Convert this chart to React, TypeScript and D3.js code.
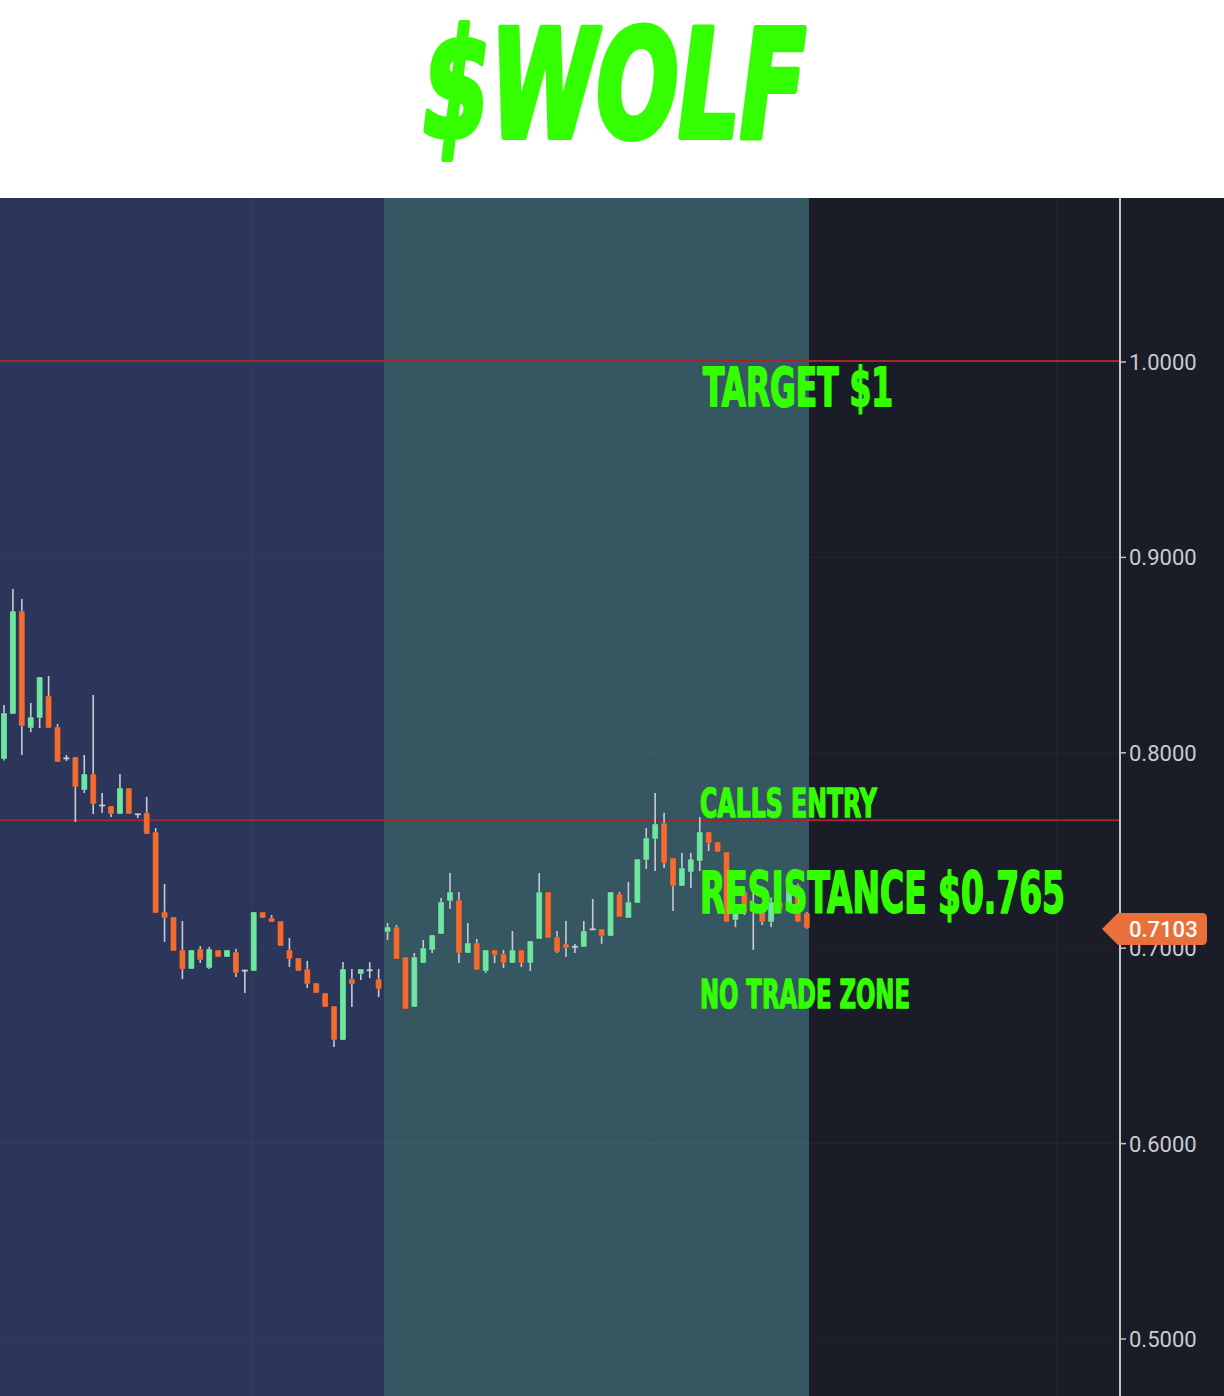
import React from "react";
import * as d3 from "d3";

// ---- data ----
const opens = [
  0.7968, 0.8199, 0.8726, 0.8127, 0.8178, 0.8291, 0.8132, 0.7973, 0.7979, 0.7810,
  0.7892, 0.7733, 0.7728, 0.7687, 0.7820, 0.7687, 0.7693, 0.7595, 0.7185, 0.7160,
  0.6991, 0.6894, 0.6996, 0.6899, 0.6991, 0.6955, 0.6981, 0.6888, 0.6883, 0.7185,
  0.7155, 0.7139, 0.6991, 0.6950, 0.6894, 0.6822, 0.6771, 0.6704, 0.6530, 0.6842,
  0.6868, 0.6888, 0.6842, 0.7083, 0.7108, 0.6955, 0.6699, 0.6924, 0.6991, 0.7073,
  0.7242, 0.7247, 0.6975, 0.7027, 0.6883, 0.6991, 0.6970, 0.6924, 0.6991, 0.6924,
  0.7047, 0.7288, 0.7057, 0.7022, 0.7008, 0.7006, 0.7098, 0.7098, 0.7062, 0.7277,
  0.7155, 0.7231, 0.7451, 0.7559, 0.7641, 0.7462, 0.7318, 0.7390, 0.7446, 0.7595,
  0.7544, 0.7492, 0.7144, 0.7288, 0.7200, 0.7185, 0.7134, 0.7236, 0.7210, 0.7324,
  0.7180,
];
const highs = [
  0.8245, 0.8838, 0.8787, 0.8255, 0.8388, 0.8393, 0.8147, 0.7989, 0.7979, 0.7989,
  0.8296, 0.7794, 0.7728, 0.7892, 0.7820, 0.7687, 0.7774, 0.7615, 0.7329, 0.7160,
  0.7139, 0.6991, 0.7011, 0.7006, 0.6991, 0.6991, 0.6996, 0.6888, 0.7185, 0.7185,
  0.7170, 0.7139, 0.7052, 0.6950, 0.6935, 0.6822, 0.6771, 0.6704, 0.6929, 0.6894,
  0.6894, 0.6929, 0.6894, 0.7129, 0.7119, 0.6955, 0.6975, 0.7042, 0.7068, 0.7257,
  0.7385, 0.7288, 0.7129, 0.7047, 0.6991, 0.6991, 0.6991, 0.7088, 0.6991, 0.7037,
  0.7385, 0.7288, 0.7088, 0.7139, 0.7022, 0.7139, 0.7252, 0.7098, 0.7288, 0.7288,
  0.7339, 0.7456, 0.7615, 0.7794, 0.7693, 0.7462, 0.7487, 0.7487, 0.7671, 0.7595,
  0.7544, 0.7492, 0.7200, 0.7300, 0.7339, 0.7200, 0.7260, 0.7280, 0.7330, 0.7330,
  0.7185,
];
const lows = [
  0.7960, 0.8199, 0.7989, 0.8106, 0.8127, 0.8127, 0.7953, 0.7958, 0.7646, 0.7794,
  0.7687, 0.7693, 0.7671, 0.7687, 0.7687, 0.7666, 0.7584, 0.7180, 0.7032, 0.6986,
  0.6842, 0.6894, 0.6924, 0.6894, 0.6955, 0.6955, 0.6853, 0.6771, 0.6883, 0.7155,
  0.7134, 0.7011, 0.6904, 0.6883, 0.6796, 0.6771, 0.6699, 0.6494, 0.6530, 0.6699,
  0.6837, 0.6847, 0.6750, 0.7042, 0.6945, 0.6689, 0.6699, 0.6924, 0.6975, 0.7073,
  0.7201, 0.6924, 0.6975, 0.6888, 0.6873, 0.6924, 0.6899, 0.6924, 0.6904, 0.6883,
  0.7047, 0.7052, 0.6975, 0.6955, 0.6975, 0.7006, 0.7093, 0.7022, 0.7062, 0.7160,
  0.7155, 0.7231, 0.7405, 0.7395, 0.7410, 0.7190, 0.7318, 0.7308, 0.7395, 0.7497,
  0.7492, 0.7134, 0.7108, 0.7170, 0.6991, 0.7119, 0.7108, 0.7180, 0.7200, 0.7134,
  0.7100,
];
const closes = [
  0.8204, 0.8726, 0.8137, 0.8183, 0.8388, 0.8127, 0.7953, 0.7970, 0.7825, 0.7892,
  0.7738, 0.7728, 0.7687, 0.7820, 0.7687, 0.7684, 0.7584, 0.7180, 0.7155, 0.6986,
  0.6894, 0.6991, 0.6940, 0.6996, 0.6955, 0.6991, 0.6873, 0.6883, 0.7185, 0.7155,
  0.7134, 0.7011, 0.6945, 0.6883, 0.6817, 0.6771, 0.6699, 0.6530, 0.6894, 0.6817,
  0.6894, 0.6886, 0.6791, 0.7108, 0.6945, 0.6689, 0.6955, 0.7001, 0.7068, 0.7236,
  0.7288, 0.6975, 0.7027, 0.6888, 0.6991, 0.6965, 0.6924, 0.6991, 0.6924, 0.7037,
  0.7288, 0.7052, 0.6981, 0.7001, 0.7006, 0.7088, 0.7095, 0.7062, 0.7288, 0.7160,
  0.7236, 0.7456, 0.7564, 0.7636, 0.7436, 0.7318, 0.7410, 0.7456, 0.7595, 0.7538,
  0.7492, 0.7134, 0.7190, 0.7180, 0.7185, 0.7134, 0.7236, 0.7200, 0.7320, 0.7134,
  0.7103,
];

const priceTicks = [0.5, 0.6, 0.7, 0.8, 0.9, 1.0];
const levelLines = [1.0, 0.765];
const lastPrice = 0.7103;
// background zones in candle-index units
const zoneBounds = [-2, 42.55, 90.2, 140];
const zoneColors = ["#2b365a", "#365762", "#1a1c27"];
const gridIdx = [27.8, 72.9, 118];

const GREEN = "#6ee6a0";
const ORANGE = "#f26b30";
const WICK = "#c9cbd1";
const TEXT_GREEN = "#33ff00";

export default function App() {
  const W = 1224;
  const H = 1396;
  const top = 198;
  const axisX = 1120;

  const x = d3.scaleLinear().domain([0, 125]).range([4, 1119]);
  const y = d3.scaleLinear().domain([0.5, 1.0]).range([1339, 362]);

  const bodyW = 6;
  const annoFont =
    "'Liberation Sans Narrow', 'DejaVu Sans Condensed', 'Liberation Sans', sans-serif";

  return (
    <div style={{ position: "absolute", left: 0, top: 0, width: W, height: H }}>
      <svg width={W} height={H} style={{ display: "block" }}>
        <rect x={0} y={0} width={W} height={H} fill="#ffffff" />
        {/* title */}
        <text
          x={423}
          y={137}
          fill={TEXT_GREEN}
          stroke={TEXT_GREEN}
          strokeWidth={6}
          strokeLinejoin="round"
          fontFamily={annoFont}
          fontWeight={700}
          fontStyle="italic"
          fontSize={150}
          textLength={383}
          lengthAdjust="spacingAndGlyphs"
        >
          $WOLF
        </text>

        {/* zones */}
        {zoneColors.map((c, i) => {
          const x0 = Math.round(Math.max(0, x(zoneBounds[i])));
          const x1 = Math.round(Math.min(W, x(zoneBounds[i + 1])));
          return (
            <rect key={i} x={x0} y={top} width={x1 - x0} height={H - top} fill={c}
              shapeRendering="crispEdges" />
          );
        })}
        {/* axis area */}
        <rect x={axisX} y={top} width={W - axisX} height={H - top} fill="#1a1c27"
          shapeRendering="crispEdges" />

        {/* grid */}
        {priceTicks.map((p) => (
          <line
            key={"h" + p}
            x1={0}
            x2={axisX}
            y1={y(p)}
            y2={y(p)}
            stroke="#ffffff"
            strokeOpacity={0.035}
            strokeWidth={1}
          />
        ))}
        {gridIdx.map((g) => (
          <line
            key={"v" + g}
            x1={x(g)}
            x2={x(g)}
            y1={top}
            y2={H}
            stroke="#ffffff"
            strokeOpacity={0.035}
            strokeWidth={1}
          />
        ))}

        {/* level lines */}
        {levelLines.map((p) => (
          <line
            key={"l" + p}
            x1={0}
            x2={axisX - 1}
            y1={y(p) - 1}
            y2={y(p) - 1}
            stroke="#a3262f"
            strokeWidth={2}
          />
        ))}

        {/* candles */}
        {opens.map((o, i) => {
          const c = closes[i];
          const cx = x(i);
          const yo = y(o);
          const yc = y(c);
          const up = c >= o;
          const bTop = Math.min(yo, yc);
          const bH = Math.abs(yo - yc);
          return (
            <g key={i}>
              <line
                x1={cx}
                x2={cx}
                y1={y(highs[i])}
                y2={y(lows[i])}
                stroke={WICK}
                strokeWidth={1.6}
              />
              {bH < 2 ? (
                <line
                  x1={cx - bodyW / 2}
                  x2={cx + bodyW / 2}
                  y1={(yo + yc) / 2}
                  y2={(yo + yc) / 2}
                  stroke={WICK}
                  strokeWidth={1.8}
                />
              ) : (
                <rect
                  x={cx - bodyW / 2}
                  y={bTop}
                  width={bodyW}
                  height={bH}
                  rx={1}
                  fill={up ? GREEN : ORANGE}
                  stroke="#1f2a3a"
                  strokeOpacity={0.35}
                  strokeWidth={0.6}
                />
              )}
            </g>
          );
        })}

        {/* axis */}
        <line x1={axisX} x2={axisX} y1={top} y2={H} stroke="#c3c5cc" strokeWidth={2} />
        {priceTicks.map((p) => (
          <g key={"t" + p}>
            <line x1={axisX} x2={axisX + 6} y1={y(p)} y2={y(p)} stroke="#c3c5cc" strokeWidth={1.5} />
            <text
              x={1129}
              y={y(p) + 8}
              fill="#c9cbd1"
              fontFamily="Roboto, 'Noto Sans', sans-serif"
              fontSize={22}
            >
              {p.toFixed(4)}
            </text>
          </g>
        ))}

        {/* last price label */}
        {(() => {
          const yy = y(lastPrice) + 1;
          const h = 32;
          const path = d3.path();
          path.moveTo(1102, yy);
          path.lineTo(1118, yy - h / 2);
          path.lineTo(1202, yy - h / 2);
          path.quadraticCurveTo(1207, yy - h / 2, 1207, yy - h / 2 + 5);
          path.lineTo(1207, yy + h / 2 - 5);
          path.quadraticCurveTo(1207, yy + h / 2, 1202, yy + h / 2);
          path.lineTo(1118, yy + h / 2);
          path.closePath();
          return (
            <g>
              <path d={path.toString()} fill="#e9703b" />
              <text
                x={1129}
                y={yy + 8}
                fill="#ffffff"
                fontFamily="Roboto, 'Noto Sans', sans-serif"
                fontSize={22}
                fontWeight={500}
              >
                {lastPrice.toFixed(4)}
              </text>
            </g>
          );
        })()}

        {/* annotations */}
        <text x={703} y={406} fill={TEXT_GREEN} stroke={TEXT_GREEN} strokeWidth={1.8}
          strokeLinejoin="round"
          fontFamily={annoFont} fontWeight={700} fontSize={54}
          textLength={190} lengthAdjust="spacingAndGlyphs">TARGET $1</text>
        <text x={700} y={817} fill={TEXT_GREEN} stroke={TEXT_GREEN} strokeWidth={1.4}
          strokeLinejoin="round"
          fontFamily={annoFont} fontWeight={700} fontSize={39}
          textLength={177} lengthAdjust="spacingAndGlyphs">CALLS ENTRY</text>
        <text x={700} y={913} fill={TEXT_GREEN} stroke={TEXT_GREEN} strokeWidth={1.8}
          strokeLinejoin="round"
          fontFamily={annoFont} fontWeight={700} fontSize={57}
          textLength={365} lengthAdjust="spacingAndGlyphs">RESISTANCE $0.765</text>
        <text x={700} y={1008} fill={TEXT_GREEN} stroke={TEXT_GREEN} strokeWidth={1.4}
          strokeLinejoin="round"
          fontFamily={annoFont} fontWeight={700} fontSize={39}
          textLength={210} lengthAdjust="spacingAndGlyphs">NO TRADE ZONE</text>
      </svg>
    </div>
  );
}
